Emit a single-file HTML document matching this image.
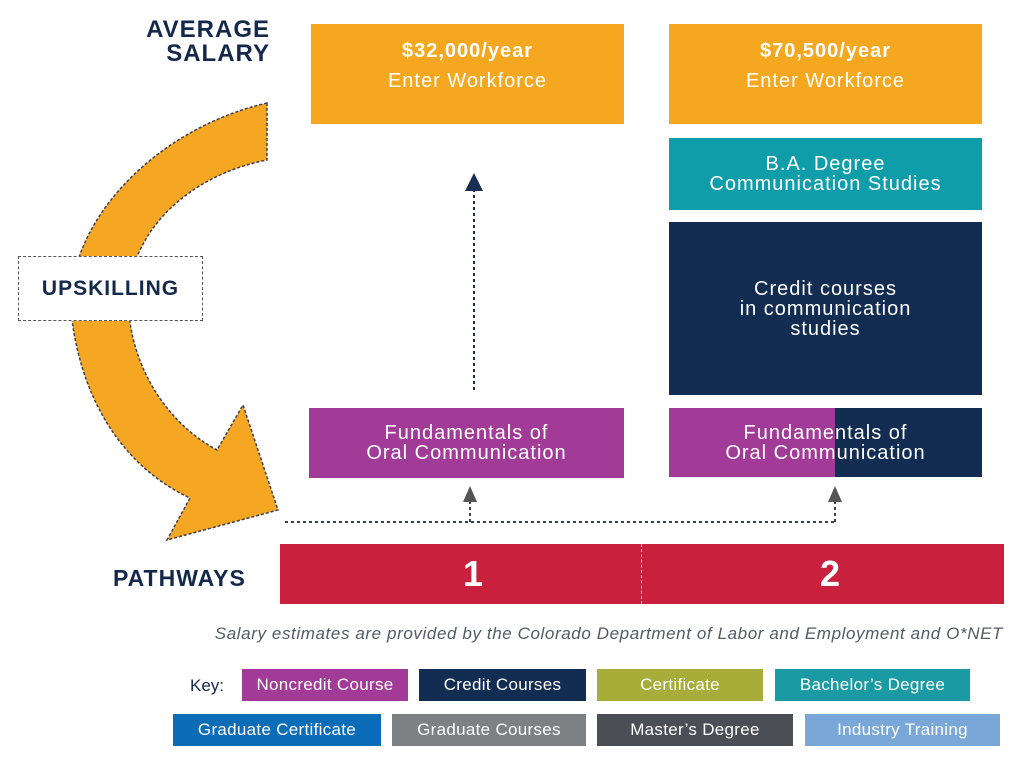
<!DOCTYPE html>
<html><head><meta charset="utf-8"><style>
body{margin:0;width:1024px;height:773px;background:#fff;position:relative;overflow:hidden;font-family:"Liberation Sans",sans-serif}
.b{position:absolute;color:#fff;text-align:center;display:flex;flex-direction:column;justify-content:center;align-items:center;font-size:20px;line-height:20px;letter-spacing:1px}
.k{position:absolute;color:#fff;font-size:17px;display:flex;align-items:center;justify-content:center;height:32px;letter-spacing:0.3px}
.t{position:absolute;color:#14284b;font-weight:bold;letter-spacing:1px}
</style></head><body>
<svg width="1024" height="773" style="position:absolute;left:0;top:0">
<path d="M267,103 C150,130 60,230 72,320 C84,410 130,470 190,498 L167,540 L278,510 L243,405 L217,450 C170,425 130,370 128,300 C130,230 190,175 267,160 Z" fill="#F5A623" stroke="#3a3f55" stroke-width="1.5" stroke-dasharray="3,2"/>
<line x1="285" y1="522" x2="835" y2="522" stroke="#3a3f55" stroke-width="2" stroke-dasharray="3,3"/>
<line x1="470" y1="522" x2="470" y2="500" stroke="#3a3f55" stroke-width="2" stroke-dasharray="3,3"/>
<polygon points="463,502 477,502 470,486" fill="#555"/>
<line x1="835" y1="522" x2="835" y2="500" stroke="#3a3f55" stroke-width="2" stroke-dasharray="3,3"/>
<polygon points="828,502 842,502 835,486" fill="#555"/>
<line x1="474" y1="390" x2="474" y2="190" stroke="#1a2d52" stroke-width="2" stroke-dasharray="3,3"/>
<polygon points="465,191 483,191 474,173" fill="#1a2d52"/>
</svg>
<div class="t" style="left:110px;top:18px;width:160px;text-align:right;font-size:24px;line-height:24px">AVERAGE<br>SALARY</div>
<div class="t" style="left:113px;top:565px;font-size:23px">PATHWAYS</div>
<div class="t" style="left:18px;top:256px;width:183px;height:63px;border:1.5px dashed #555;background:#fff;display:flex;align-items:center;justify-content:center;font-size:21px">UPSKILLING</div>
<div class="b" style="left:311px;top:24px;width:313px;height:100px;background:#F5A81F;justify-content:flex-start;padding-top:12px;box-sizing:border-box;line-height:30px"><b>$32,000/year</b>Enter Workforce</div>
<div class="b" style="left:669px;top:24px;width:313px;height:100px;background:#F5A81F;justify-content:flex-start;padding-top:12px;box-sizing:border-box;line-height:30px"><b>$70,500/year</b>Enter Workforce</div>
<div class="b" style="left:669px;top:138px;width:313px;height:72px;background:#0F9DAA">B.A. Degree<br>Communication Studies</div>
<div class="b" style="left:669px;top:222px;width:313px;height:173px;background:#132D52">Credit courses<br>in communication<br>studies</div>
<div class="b" style="left:309px;top:408px;width:315px;height:70px;background:#A23B97">Fundamentals of<br>Oral Communication</div>
<div class="b" style="left:669px;top:408px;width:313px;height:69px;background:linear-gradient(90deg,#A23B97 0,#A23B97 53%,#132D52 53%)">Fundamentals of<br>Oral Communication</div>
<div style="position:absolute;left:280px;top:544px;width:724px;height:60px;background:#C8203D"></div>
<div style="position:absolute;left:641px;top:544px;height:60px;border-left:1.5px dashed #f3c0c8"></div>
<div style="position:absolute;left:423px;top:544px;width:100px;height:60px;color:#fff;font-size:36px;font-weight:bold;display:flex;align-items:center;justify-content:center">1</div>
<div style="position:absolute;left:780px;top:544px;width:100px;height:60px;color:#fff;font-size:36px;font-weight:bold;display:flex;align-items:center;justify-content:center">2</div>
<div style="position:absolute;left:100px;top:624px;width:903px;text-align:right;font-style:italic;color:#555a66;font-size:17px;letter-spacing:0.6px;white-space:nowrap">Salary estimates are provided by the Colorado Department of Labor and Employment and O*NET</div>
<div style="position:absolute;left:190px;top:676px;font-size:17px;color:#14284b">Key:</div>
<div class="k" style="left:242px;top:669px;width:166px;background:#A23B97">Noncredit Course</div>
<div class="k" style="left:419px;top:669px;width:167px;background:#132D52">Credit Courses</div>
<div class="k" style="left:597px;top:669px;width:166px;background:#A7AD38">Certificate</div>
<div class="k" style="left:775px;top:669px;width:195px;background:#1A9BA3">Bachelor’s Degree</div>
<div class="k" style="left:173px;top:714px;width:208px;background:#0B6DB8">Graduate Certificate</div>
<div class="k" style="left:392px;top:714px;width:194px;background:#7E8083">Graduate Courses</div>
<div class="k" style="left:597px;top:714px;width:196px;background:#4C4E55">Master’s Degree</div>
<div class="k" style="left:805px;top:714px;width:195px;background:#79A7D7">Industry Training</div>
</body></html>
